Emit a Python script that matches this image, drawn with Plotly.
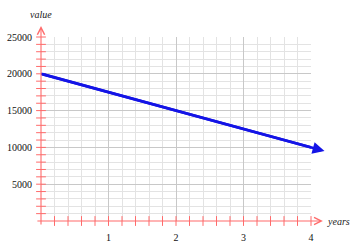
import numpy as np
import plotly.graph_objects as go

# data
years = [0, 4.2]
values = [20000, 9500]
x_tick_vals = [1, 2, 3, 4]
x_tick_text = ["1", "2", "3", "4"]
y_tick_vals = [5000, 10000, 15000, 20000, 25000]
y_tick_text = ["5000", "10000", "15000", "20000", "25000"]
x_minor_step = 0.2
y_minor_step = 1000
x_max = 4
y_max = 25000
x_label = "years"
y_label = "value"

RED = "#ff6b6b"
BLUE = "#1414e6"
SERIF = "'Liberation Serif', 'Times New Roman', serif"

fig = go.Figure()

# red tick marks crossing the axes
xt = np.arange(x_minor_step, x_max + 1e-9, x_minor_step)
yt = np.arange(y_minor_step, y_max + 1e-9, y_minor_step)
fig.add_trace(go.Scatter(x=xt, y=[0] * len(xt), mode="markers",
                         marker=dict(symbol="line-ns", size=7, line=dict(color=RED, width=1)),
                         cliponaxis=False, hoverinfo="skip", showlegend=False))
fig.add_trace(go.Scatter(x=[0] * len(yt), y=yt, mode="markers",
                         marker=dict(symbol="line-ew", size=7, line=dict(color=RED, width=1)),
                         cliponaxis=False, hoverinfo="skip", showlegend=False))

# blue line
fig.add_trace(go.Scatter(x=years[:1] + [years[0] + (years[1] - years[0]) * 0.97],
                         y=values[:1] + [values[0] + (values[1] - values[0]) * 0.97],
                         mode="lines", line=dict(color=BLUE, width=2.8),
                         cliponaxis=False, showlegend=False))
fig.add_annotation(x=years[1], y=values[1], ax=years[0], ay=values[0],
                   xref="x", yref="y", axref="x", ayref="y",
                   showarrow=True, arrowhead=2, arrowsize=0.85, arrowwidth=2.8,
                   arrowcolor=BLUE, text="")

# axis arrows
fig.add_annotation(x=0, y=1.06, xref="x", yref="paper", ax=0, ay=200,
                   axref="pixel", ayref="pixel", showarrow=True, arrowhead=5,
                   arrowsize=1.3, arrowwidth=1.1, arrowcolor=RED, text="")
fig.add_annotation(x=1.044, y=0, xref="paper", yref="y", ax=-287, ay=0,
                   showarrow=True, arrowhead=5,
                   arrowsize=1.3, arrowwidth=1.1, arrowcolor=RED, text="")

fig.add_annotation(x=0, y=1.12, xref="x", yref="paper", text=y_label,
                   xanchor="center", yanchor="middle",
                   showarrow=False, font=dict(family=SERIF, size=10, color="#222", style="italic"))
fig.add_annotation(x=1.05, y=0, xref="paper", yref="y", text=x_label,
                   xanchor="left", yanchor="middle",
                   showarrow=False, font=dict(family=SERIF, size=10, color="#222", style="italic"))

fig.update_layout(
    width=353, height=246, autosize=False,
    margin=dict(l=41, r=42, t=37, b=25),
    plot_bgcolor="white", paper_bgcolor="white",
    font=dict(family=SERIF, size=10, color="#111"),
    xaxis=dict(range=[0, x_max], tickmode="array", tickvals=x_tick_vals, ticktext=x_tick_text,
               showgrid=True, gridcolor="#c8c8c8", gridwidth=1, zeroline=False, showline=False,
               automargin=False, tickfont=dict(family=SERIF, size=10, color="#111"),
               ticks="outside", ticklen=7, tickcolor="rgba(0,0,0,0)",
               minor=dict(tickmode="linear", tick0=0, dtick=x_minor_step, showgrid=True,
                          gridcolor="#e3e3e3", gridwidth=1)),
    yaxis=dict(range=[0, y_max], tickmode="array", tickvals=y_tick_vals, ticktext=y_tick_text,
               showgrid=True, gridcolor="#c8c8c8", gridwidth=1, zeroline=False, showline=False,
               automargin=False, tickfont=dict(family=SERIF, size=10, color="#111"),
               ticks="outside", ticklen=6, tickcolor="rgba(0,0,0,0)",
               minor=dict(tickmode="linear", tick0=0, dtick=y_minor_step, showgrid=True,
                          gridcolor="#e3e3e3", gridwidth=1)),
)

fig.write_html("out.html")
